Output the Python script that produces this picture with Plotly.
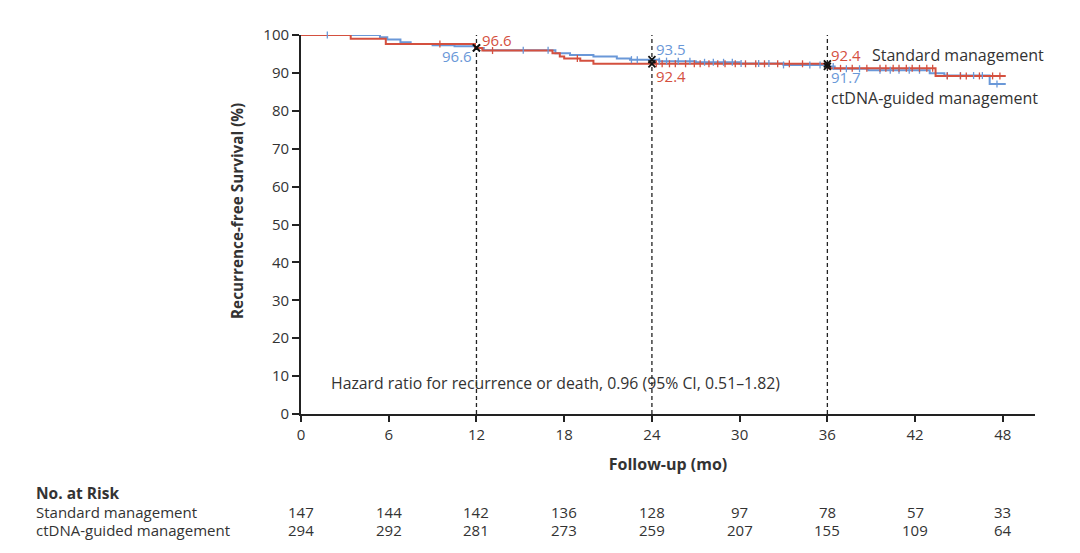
import numpy as np
import plotly.graph_objects as go

# ---------------- data ----------------
x_ticks = [0, 6, 12, 18, 24, 30, 36, 42, 48]
y_ticks = [0, 10, 20, 30, 40, 50, 60, 70, 80, 90, 100]

std_times = [0, 3.4, 5.8, 11.9, 12.4, 17.2, 17.7, 18.0, 19.1, 20.0, 36.1, 43.4, 48.2]
std_surv = [100, 99.0, 97.6, 96.6, 95.9, 95.2, 94.3, 93.8, 93.2, 92.4, 91.2, 89.2, 89.2]

ct_times = [0, 5.4, 5.9, 6.8, 7.5, 9.0, 10.5, 11.9, 12.5, 17.4, 18.4, 20.0, 21.6, 22.5,
            24.5, 27.0, 30.0, 33.0, 35.9, 36.5, 38.8, 43.0, 44.0, 47.1, 48.2]
ct_surv = [100, 99.4, 98.8, 98.1, 97.6, 97.3, 97.0, 96.6, 96.0, 95.2, 94.7, 94.3, 93.8, 93.5,
           93.1, 92.8, 92.5, 92.1, 91.7, 91.1, 90.7, 89.9, 89.3, 87.1, 87.1]

std_censor = [9.5, 13.1, 18.9, 24.3, 24.7, 25.2, 25.6, 26.3, 26.9, 27.3, 27.9, 28.5, 29.0,
              29.7, 30.4, 31.1, 31.7, 32.6, 33.4, 34.3, 36.9, 37.7, 38.7, 39.6, 40.0, 40.5,
              40.9, 41.4, 41.8, 42.3, 42.8, 43.2, 44.2, 45.1, 45.5, 46.4, 47.3, 47.8]
ct_censor = [1.8, 15.2, 16.9, 22.6, 23.0, 24.5, 25.0, 25.8, 26.6, 27.6, 28.2, 28.9, 29.5,
             30.1, 31.3, 32.0, 33.0, 34.8, 35.5, 36.4, 37.3, 38.2, 39.6, 40.3, 40.9, 41.6,
             42.3, 44.2, 45.1, 46.0, 46.6, 47.6]

landmark_t = [12, 24, 36]
std_landmark = [96.6, 92.4, 92.4]
ct_landmark = [96.6, 93.5, 91.7]

risk_std = [147, 144, 142, 136, 128, 97, 78, 57, 33]
risk_ct = [294, 292, 281, 273, 259, 207, 155, 109, 64]

RED = "#d4503f"
BLUE = "#6a98d8"
TXT = "#333333"
FONT = "Open Sans"
NARROW = "Liberation Sans Narrow, Open Sans"


def step_value(times, surv, t):
    idx = np.searchsorted(np.asarray(times), t, side="right") - 1
    return float(np.asarray(surv)[idx])


fig = go.Figure()

# dashed landmark lines
for t in landmark_t:
    fig.add_trace(go.Scatter(x=[t, t], y=[0, 101], mode="lines",
                             line=dict(color="#222222", width=1.3, dash="4px,3px"),
                             cliponaxis=False, showlegend=False, hoverinfo="skip"))

# KM curves
fig.add_trace(go.Scatter(x=ct_times, y=ct_surv, mode="lines", line_shape="hv",
                         line=dict(color=BLUE, width=2), cliponaxis=False, showlegend=False))
fig.add_trace(go.Scatter(x=std_times, y=std_surv, mode="lines", line_shape="hv",
                         line=dict(color=RED, width=2), cliponaxis=False, showlegend=False))

# censor marks
fig.add_trace(go.Scatter(x=ct_censor, y=[step_value(ct_times, ct_surv, t) for t in ct_censor],
                         mode="markers", marker=dict(symbol="line-ns", size=5,
                                                     line=dict(color=BLUE, width=1.3)),
                         cliponaxis=False, showlegend=False))
fig.add_trace(go.Scatter(x=std_censor, y=[step_value(std_times, std_surv, t) for t in std_censor],
                         mode="markers", marker=dict(symbol="line-ns", size=5,
                                                     line=dict(color=RED, width=1.3)),
                         cliponaxis=False, showlegend=False))

# landmark crosses
fig.add_trace(go.Scatter(x=landmark_t + landmark_t, y=std_landmark + ct_landmark, mode="markers",
                         marker=dict(symbol="x-thin", size=7, line=dict(color="#111111", width=1.8)),
                         cliponaxis=False, showlegend=False))

ann = []


def add(text, x, y, color=TXT, size=15, xanchor="left", xref="x", yref="y", bold=False,
        angle=0):
    ann.append(dict(text=("<b>%s</b>" % text) if bold else text, x=x, y=y, xref=xref, yref=yref,
                    xanchor=xanchor, yanchor="middle", showarrow=False, textangle=angle,
                    borderpad=0,
                    font=dict(family=FONT, size=size, color=color)))


# landmark value labels
add("%.1f" % std_landmark[0], 12.3, 98.7, RED)
add("%.1f" % ct_landmark[0], 11.75, 94.5, BLUE, xanchor="right")
add("%.1f" % ct_landmark[1], 24.2, 96.4, BLUE)
add("%.1f" % std_landmark[1], 24.2, 89.2, RED)
add("%.1f" % std_landmark[2], 36.2, 94.8, RED)
add("%.1f" % ct_landmark[2], 36.2, 88.9, BLUE)
add("Standard management", 39.0, 94.8, TXT, size=16)
add("ctDNA-guided management", 36.2, 83.3, TXT, size=16)
add("Hazard ratio for recurrence or death, 0.96 (95% CI, 0.51\u20131.82)", 1.95, 8.2, TXT,
    size=15.8)

# y-axis title
add("Recurrence-free Survival (%)", -0.0872, 0.5356, TXT, size=15.3, xanchor="center",
    xref="paper", yref="paper", bold=True, angle=-90)

# at-risk table
add("No. at Risk", -0.3625, -0.208, TXT, size=15.5, xref="paper", yref="paper", bold=True)
add("Standard management", -0.3625, -0.259, TXT, size=15, xref="paper", yref="paper")
add("ctDNA-guided management", -0.3625, -0.306, TXT, size=15, xref="paper", yref="paper")
for t, a, b in zip(x_ticks, risk_std, risk_ct):
    add(str(a), t, -0.259, TXT, size=15, xanchor="center", yref="paper")
    add(str(b), t, -0.306, TXT, size=15, xanchor="center", yref="paper")

fig.update_layout(
    width=1080, height=553,
    margin=dict(l=293, r=53, t=27, b=147),
    paper_bgcolor="white", plot_bgcolor="white",
    font=dict(family=FONT, size=14, color=TXT),
    annotations=ann,
    xaxis=dict(range=[0, 50.2], tickvals=x_ticks, ticktext=[str(v) for v in x_ticks],
               showgrid=False, zeroline=False, showline=True, linecolor="#222222", linewidth=1.8,
               ticks="outside", ticklen=6, tickwidth=1.5, tickcolor="#222222",
               tickfont=dict(family=NARROW, size=15, color=TXT),
               title=dict(text="<b>Follow-up (mo)</b>", standoff=16,
                          font=dict(family=FONT, size=16, color=TXT))),
    yaxis=dict(range=[0, 100], tickvals=y_ticks, ticktext=[str(v) for v in y_ticks],
               showgrid=False, zeroline=False, showline=True, linecolor="#222222", linewidth=1.8,
               ticks="outside", ticklen=7, tickwidth=1.5, tickcolor="#222222",
               tickfont=dict(family=FONT, size=15, color=TXT)),
)

fig.write_html("out.html")
